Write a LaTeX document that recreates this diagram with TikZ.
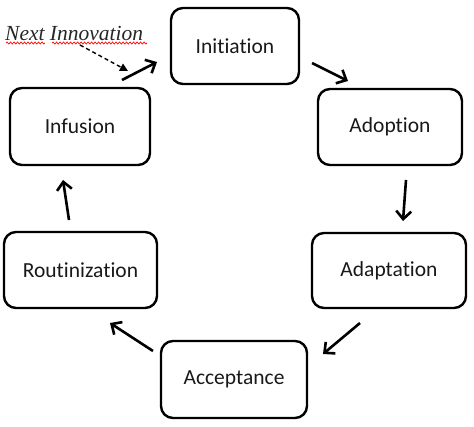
\documentclass[tikz,border=0pt]{standalone}
\usepackage{fontspec}
\setmainfont{Carlito}[Ligatures=NoCommon]
\newfontfamily\serifit{Liberation Serif}
\usetikzlibrary{arrows.meta,decorations.pathmorphing}
\begin{document}
\begin{tikzpicture}[x=1pt,y=-1pt,
  stage/.style={draw, line width=2.4pt, rounded corners=12pt, align=center,
    font=\fontsize{21.5}{24}\selectfont, text=black!90},
  flow/.style={line width=2.6pt, -{Straight Barb[length=8pt,width=15pt]}},
  hint/.style={line width=1.4pt, dash pattern=on 4pt off 3pt, -{Triangle[length=8pt,width=8pt]}},
  spell/.style={red, line width=0.7pt, decorate, decoration={snake,amplitude=1pt,segment length=3.5pt}}]
\useasboundingbox (0,0) rectangle (474,426);
\node[stage, minimum width=128pt, minimum height=76pt] (ini) at (235,46) {Initiation};
\node[stage, minimum width=144pt, minimum height=76pt] (ado) at (390,127) {Adoption};
\node[stage, minimum width=154pt, minimum height=75pt] (ada) at (389,270.5) {Adaptation};
\node[stage, minimum width=146pt, minimum height=77pt] (acc) at (234,379.5) {Acceptance};
\node[stage, minimum width=153pt, minimum height=76pt] (rou) at (80.5,270) {Routinization};
\node[stage, minimum width=140pt, minimum height=77pt] (inf) at (80,126.5) {Infusion};
\node[font=\serifit\itshape\fontsize{21.5}{24}\selectfont, text=black!85, anchor=west, inner sep=0pt] (nxt) at (5,33) {Next Innovation};
\draw[spell] (6,43) -- (45,43);
\draw[spell] (52,43) -- (147,43);
\coordinate (a1) at (122,80); \coordinate (b1) at (157,62);
\coordinate (a2) at (312,63); \coordinate (b2) at (348,81);
\coordinate (a3) at (406,180); \coordinate (b3) at (403,221);
\coordinate (a4) at (360,323); \coordinate (b4) at (323,354);
\coordinate (a5) at (153,351); \coordinate (b5) at (110,323);
\coordinate (a6) at (69,220); \coordinate (b6) at (63,180);
\coordinate (h1) at (80,45); \coordinate (h2) at (128,71);
\draw[flow] (a1) -- (b1);
\draw[flow] (a2) -- (b2);
\draw[flow] (a3) -- (b3);
\draw[flow] (a4) -- (b4);
\draw[flow] (a5) -- (b5);
\draw[flow] (a6) -- (b6);
\draw[hint] (h1) -- (h2);
\end{tikzpicture}
\end{document}
